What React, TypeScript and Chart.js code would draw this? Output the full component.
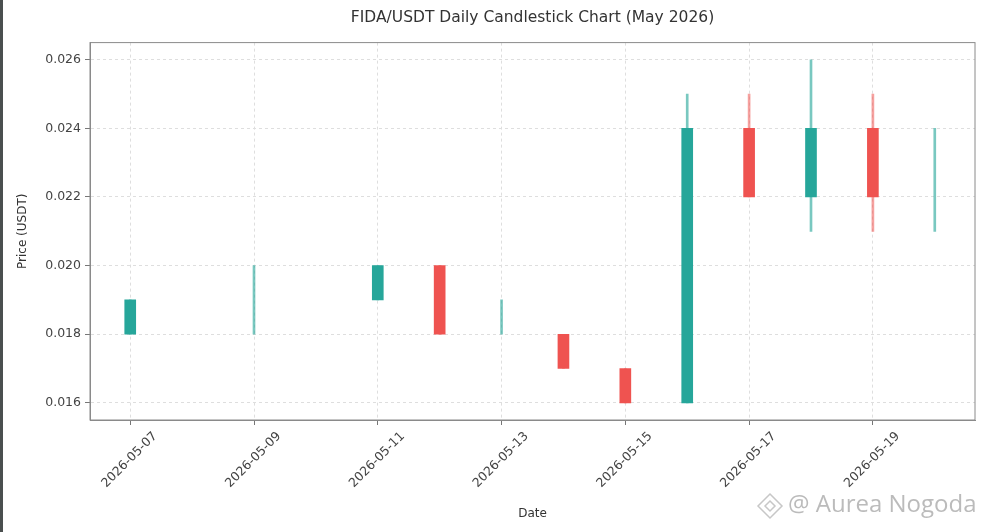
import React, { useEffect, useRef } from "react";
import { Chart, registerables } from "chart.js";

Chart.register(...registerables);

const dates = [
  "2026-05-07", "2026-05-08", "2026-05-09", "2026-05-10", "2026-05-11", "2026-05-12", "2026-05-13",
  "2026-05-14", "2026-05-15", "2026-05-16", "2026-05-17", "2026-05-18", "2026-05-19", "2026-05-20",
];
const openP = [0.018, null, 0.018, null, 0.019, 0.020, 0.018, 0.018, 0.017, 0.016, 0.024, 0.022, 0.024, 0.021];
const closeP = [0.019, null, 0.018, null, 0.020, 0.018, 0.018, 0.017, 0.016, 0.024, 0.022, 0.024, 0.022, 0.021];
const highP = [0.019, null, 0.020, null, 0.020, 0.020, 0.019, 0.018, 0.017, 0.025, 0.025, 0.026, 0.025, 0.024];
const lowP = [0.018, null, 0.018, null, 0.019, 0.018, 0.018, 0.017, 0.016, 0.016, 0.022, 0.021, 0.021, 0.021];
const yTicks = [0.016, 0.018, 0.020, 0.022, 0.024, 0.026];
const xTickIdx = [0, 2, 4, 6, 8, 10, 12];

const UP = "#26a69a";
const DOWN = "#ef5350";
const UP_WICK = "rgba(38,166,154,0.62)";
const DOWN_WICK = "rgba(239,83,80,0.55)";
const FONT = "'DejaVu Sans'";
const WM_FONT = "'Open Sans'";

export default function App() {
  const ref = useRef<HTMLCanvasElement | null>(null);

  useEffect(() => {
    if (!ref.current) return;
    const idx = dates.map((_, i) => i);
    const valid = idx.filter((i) => openP[i] !== null);
    const withBody = valid.filter((i) => openP[i] !== closeP[i]);
    const isUp = (i: number) => (closeP[i] as number) >= (openP[i] as number);

    const bodyData = withBody.map((i) => ({ x: i, y: [openP[i], closeP[i]] }));
    const wickData = valid.map((i) => ({ x: i, y: [lowP[i], highP[i]] }));

    const framePlugin = {
      id: "frame",
      beforeDraw(chart: any) {
        const { ctx, width, height } = chart;
        ctx.save();
        ctx.fillStyle = "#ffffff";
        ctx.fillRect(0, 0, width, height);
        ctx.restore();
      },
      afterDraw(chart: any) {
        const { ctx, chartArea } = chart;
        ctx.save();
        ctx.strokeStyle = "#8a8a8a";
        ctx.lineWidth = 1;
        ctx.strokeRect(chartArea.left, chartArea.top, chartArea.right - chartArea.left, chartArea.bottom - chartArea.top);
        // watermark
        ctx.fillStyle = "rgba(170,170,170,0.8)";
        ctx.font = `24px ${WM_FONT}`;
        ctx.textBaseline = "middle";
        ctx.textAlign = "left";
        ctx.fillText("@ Aurea Nogoda", 788, 505);
        ctx.strokeStyle = "rgba(185,185,185,0.8)";
        ctx.lineWidth = 1.5;
        ctx.beginPath();
        const cx = 770, cy = 506, r = 12;
        ctx.moveTo(cx, cy - r);
        ctx.lineTo(cx + r, cy);
        ctx.lineTo(cx, cy + r);
        ctx.lineTo(cx - r, cy);
        ctx.closePath();
        ctx.stroke();
        ctx.beginPath();
        ctx.moveTo(cx, cy - 5);
        ctx.lineTo(cx + 5, cy);
        ctx.lineTo(cx, cy + 5);
        ctx.lineTo(cx - 5, cy);
        ctx.closePath();
        ctx.stroke();
        ctx.restore();
      },
    };

    const gridOpts = {
      color: "#dedede",
      lineWidth: 1,
      offset: false,
      drawTicks: true,
      tickLength: 5,
      tickColor: "#777777",
      tickBorderDash: [],
    };

    const chart = new Chart(ref.current, {
      type: "bar",
      data: {
        datasets: [
          {
            label: "body",
            data: bodyData as any,
            backgroundColor: withBody.map((i) => (isUp(i) ? UP : DOWN)),
            borderWidth: 0,
            barThickness: 11,
            grouped: false,
            order: 0,
          } as any,
          {
            label: "wick",
            data: wickData as any,
            backgroundColor: valid.map((i) => (isUp(i) ? UP_WICK : DOWN_WICK)),
            borderWidth: 0,
            barThickness: 2,
            grouped: false,
            order: 1,
          } as any,
        ],
      },
      options: {
        animation: false,
        responsive: true,
        maintainAspectRatio: false,
        layout: { padding: { left: 0, right: 10, top: 0, bottom: 0 } },
        plugins: {
          legend: { display: false },
          tooltip: { enabled: false },
          title: {
            display: true,
            text: "FIDA/USDT Daily Candlestick Chart (May 2026)",
            color: "#333333",
            font: { family: FONT, size: 15.5, weight: "normal" },
            padding: { top: 9, bottom: 15 },
            fullSize: false,
          } as any,
        },
        scales: {
          x: {
            type: "linear",
            min: -0.65,
            max: 13.65,
            offset: false,
            afterBuildTicks: (s: any) => {
              s.ticks = xTickIdx.map((v) => ({ value: v }));
            },
            afterFit: (s: any) => {
              s.height = 112;
            },
            ticks: {
              minRotation: 45,
              maxRotation: 45,
              autoSkip: false,
              labelOffset: 25,
              padding: 4,
              color: "#444444",
              font: { family: FONT, size: 12.5 },
              callback: (v: any) => dates[Math.round(Number(v))] ?? "",
            },
            grid: gridOpts as any,
            border: { display: true, color: "#8a8a8a", dash: [3, 3] },
            title: {
              display: true,
              text: "Date",
              color: "#333333",
              font: { family: FONT, size: 12 },
              padding: { top: 0, bottom: 11 },
            },
          } as any,
          y: {
            type: "linear",
            min: 0.0155,
            max: 0.0265,
            afterBuildTicks: (s: any) => {
              s.ticks = yTicks.map((v) => ({ value: v }));
            },
            afterFit: (s: any) => {
              s.width = 90;
            },
            ticks: {
              padding: 4,
              color: "#444444",
              font: { family: FONT, size: 12.5 },
              callback: (v: any) => Number(v).toFixed(3),
            },
            grid: gridOpts as any,
            border: { display: true, color: "#8a8a8a", dash: [3, 3] },
            title: {
              display: true,
              text: "Price (USDT)",
              color: "#333333",
              font: { family: FONT, size: 12 },
              padding: { top: 16, bottom: 0 },
            },
          } as any,
        },
      },
      plugins: [framePlugin],
    });
    return () => chart.destroy();
  }, []);

  return (
    <div style={{ position: "fixed", left: 0, top: 0, width: 985, height: 532, background: "#fff" }}>
      <canvas ref={ref} />
      <div style={{ position: "absolute", left: 0, top: 0, width: 3, height: 532, background: "#4a4f4f" }} />
    </div>
  );
}
